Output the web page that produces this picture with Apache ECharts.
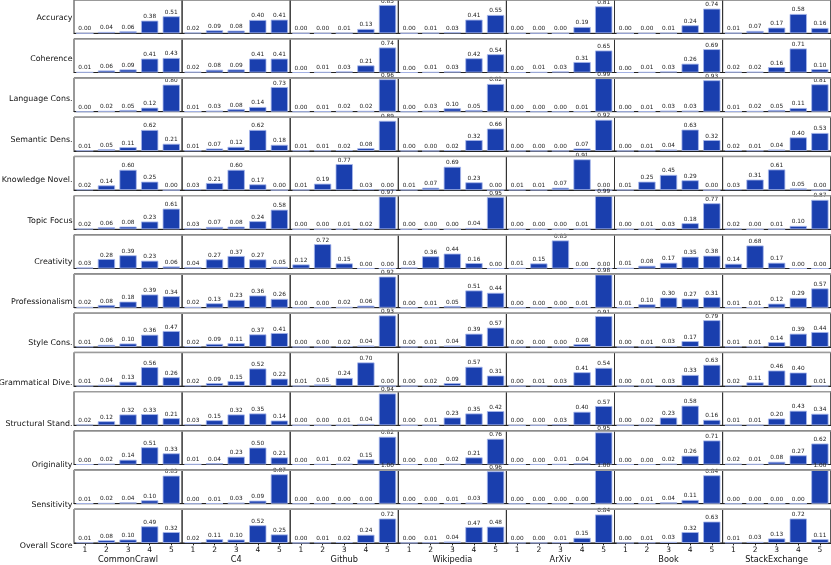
<!DOCTYPE html>
<html>
<head>
<meta charset="utf-8">
<script src="https://cdn.jsdelivr.net/npm/echarts@6/dist/echarts.min.js"></script>
<style>
html,body{margin:0;padding:0;background:#fff;}
#chart{width:831px;height:565px;}
</style>
</head>
<body>
<div id="chart"></div>
<script>
// ---- data ----
const sources = ['CommonCrawl','C4','Github','Wikipedia','ArXiv','Book','StackExchange'];
const metrics = ['Accuracy','Coherence','Language Cons.','Semantic Dens.','Knowledge Novel.','Topic Focus','Creativity','Professionalism','Style Cons.','Grammatical Dive.','Structural Stand.','Originality','Sensitivity','Overall Score'];
const scoreLabels = ['1','2','3','4','5'];

const commonCrawl = [
  [0.00,0.04,0.06,0.38,0.51],
  [0.01,0.06,0.09,0.41,0.43],
  [0.00,0.02,0.05,0.12,0.80],
  [0.01,0.05,0.11,0.62,0.21],
  [0.02,0.14,0.60,0.25,0.00],
  [0.02,0.06,0.08,0.23,0.61],
  [0.03,0.28,0.39,0.23,0.06],
  [0.02,0.08,0.18,0.39,0.34],
  [0.01,0.06,0.10,0.36,0.47],
  [0.01,0.04,0.13,0.56,0.26],
  [0.02,0.12,0.32,0.33,0.21],
  [0.00,0.02,0.14,0.51,0.33],
  [0.01,0.02,0.04,0.10,0.83],
  [0.01,0.08,0.10,0.49,0.32]
];
const c4 = [
  [0.02,0.09,0.08,0.40,0.41],
  [0.02,0.08,0.09,0.41,0.41],
  [0.01,0.03,0.08,0.14,0.73],
  [0.01,0.07,0.12,0.62,0.18],
  [0.03,0.21,0.60,0.17,0.00],
  [0.03,0.07,0.08,0.24,0.58],
  [0.04,0.27,0.37,0.27,0.05],
  [0.02,0.13,0.23,0.36,0.26],
  [0.02,0.09,0.11,0.37,0.41],
  [0.02,0.09,0.15,0.52,0.22],
  [0.03,0.15,0.32,0.35,0.14],
  [0.01,0.04,0.23,0.50,0.21],
  [0.00,0.01,0.03,0.09,0.87],
  [0.02,0.11,0.10,0.52,0.25]
];
const github = [
  [0.00,0.00,0.01,0.13,0.85],
  [0.00,0.01,0.03,0.21,0.74],
  [0.00,0.01,0.02,0.02,0.96],
  [0.01,0.01,0.02,0.08,0.89],
  [0.01,0.19,0.77,0.03,0.00],
  [0.00,0.00,0.01,0.02,0.97],
  [0.12,0.72,0.15,0.00,0.00],
  [0.00,0.00,0.02,0.06,0.92],
  [0.00,0.00,0.02,0.04,0.93],
  [0.01,0.05,0.24,0.70,0.00],
  [0.00,0.00,0.01,0.04,0.94],
  [0.00,0.01,0.02,0.15,0.82],
  [0.00,0.00,0.00,0.00,1.00],
  [0.00,0.01,0.02,0.24,0.72]
];
const wikipedia = [
  [0.00,0.01,0.03,0.41,0.55],
  [0.00,0.01,0.03,0.42,0.54],
  [0.00,0.03,0.10,0.05,0.82],
  [0.00,0.00,0.02,0.32,0.66],
  [0.01,0.07,0.69,0.23,0.00],
  [0.00,0.00,0.00,0.04,0.95],
  [0.03,0.36,0.44,0.16,0.00],
  [0.00,0.01,0.05,0.51,0.44],
  [0.00,0.01,0.04,0.39,0.57],
  [0.00,0.02,0.09,0.57,0.31],
  [0.00,0.01,0.23,0.35,0.42],
  [0.00,0.00,0.02,0.21,0.76],
  [0.00,0.00,0.01,0.03,0.96],
  [0.00,0.01,0.04,0.47,0.48]
];
const arxiv = [
  [0.00,0.00,0.00,0.19,0.81],
  [0.00,0.01,0.03,0.31,0.65],
  [0.00,0.00,0.00,0.01,0.99],
  [0.00,0.00,0.00,0.07,0.92],
  [0.01,0.01,0.07,0.91,0.00],
  [0.00,0.00,0.00,0.01,0.99],
  [0.01,0.15,0.83,0.00,0.00],
  [0.00,0.00,0.00,0.01,0.98],
  [0.00,0.00,0.00,0.08,0.91],
  [0.00,0.01,0.03,0.41,0.54],
  [0.00,0.00,0.03,0.40,0.57],
  [0.00,0.00,0.01,0.04,0.95],
  [0.00,0.00,0.00,0.00,1.00],
  [0.00,0.00,0.01,0.15,0.84]
];
const book = [
  [0.00,0.00,0.01,0.24,0.74],
  [0.00,0.01,0.03,0.26,0.69],
  [0.00,0.01,0.03,0.03,0.93],
  [0.00,0.01,0.04,0.63,0.32],
  [0.01,0.25,0.45,0.29,0.00],
  [0.00,0.01,0.03,0.18,0.77],
  [0.01,0.08,0.17,0.35,0.38],
  [0.01,0.10,0.30,0.27,0.31],
  [0.00,0.01,0.03,0.17,0.79],
  [0.00,0.01,0.03,0.33,0.63],
  [0.00,0.02,0.23,0.58,0.16],
  [0.00,0.00,0.02,0.26,0.71],
  [0.00,0.01,0.04,0.11,0.84],
  [0.00,0.01,0.03,0.32,0.63]
];
const stackExchange = [
  [0.01,0.07,0.17,0.58,0.16],
  [0.02,0.02,0.16,0.71,0.10],
  [0.01,0.02,0.05,0.11,0.81],
  [0.02,0.01,0.04,0.40,0.53],
  [0.03,0.31,0.61,0.05,0.00],
  [0.02,0.00,0.01,0.10,0.87],
  [0.14,0.68,0.17,0.00,0.00],
  [0.01,0.01,0.12,0.29,0.57],
  [0.01,0.01,0.14,0.39,0.44],
  [0.02,0.11,0.46,0.40,0.01],
  [0.01,0.01,0.20,0.43,0.34],
  [0.02,0.01,0.08,0.27,0.62],
  [0.00,0.00,0.00,0.00,1.00],
  [0.01,0.03,0.13,0.72,0.11]
];
const sourceData = [commonCrawl, c4, github, wikipedia, arxiv, book, stackExchange];

// ---- layout ----
const LEFT0 = 74, COLW = 108.1;
const TOP0 = -0.5, ROWP = 39.2, PANELH = 33.8;
const LABEL_Y0 = 18, LABEL_P = 40.6;
const FONT = 'DejaVu Sans';

const grids = [], xAxes = [], yAxes = [], series = [], graphics = [];
const nRows = metrics.length, nCols = sources.length;

for (let r = 0; r < nRows; r++) {
  for (let c = 0; c < nCols; c++) {
    const idx = grids.length;
    const isBottom = r === nRows - 1;
    grids.push({
      left: LEFT0 + c * COLW, top: TOP0 + r * ROWP,
      width: COLW, height: PANELH,
      show: true, borderColor: '#333', borderWidth: 1, backgroundColor: 'transparent'
    });
    xAxes.push({
      type: 'category', gridIndex: idx, data: scoreLabels,
      axisLine: { show: true, lineStyle: { color: '#222', width: 1 } },
      axisTick: { show: isBottom, alignWithLabel: true, length: 2.5, lineStyle: { color: '#222' } },
      axisLabel: { show: isBottom, fontSize: 7.5, color: '#111', margin: 3, fontFamily: FONT },
      name: isBottom ? sources[c] : '', nameLocation: 'middle', nameGap: 13,
      nameTextStyle: { fontSize: 8.2, color: '#111', fontFamily: FONT }
    });
    yAxes.push({
      type: 'value', gridIndex: idx, min: 0, max: 1, show: false,
      splitLine: { show: false }
    });
    series.push({
      type: 'bar', xAxisIndex: idx, yAxisIndex: idx,
      data: sourceData[c][r], barWidth: '80%',
      itemStyle: { color: '#1a3fae', borderColor: '#a9b9ec', borderWidth: 0.8 },
      label: {
        show: true, position: 'top', distance: 1,
        fontSize: 5.8, color: '#1a1a1a', fontFamily: FONT,
        formatter: p => p.value.toFixed(2)
      },
      clip: false, silent: true, animation: false
    });
  }
  // gray top line of row
  graphics.push({
    type: 'line', z: 100,
    shape: { x1: LEFT0, y1: TOP0 + r * ROWP + 0.3, x2: LEFT0 + nCols * COLW, y2: TOP0 + r * ROWP + 0.3 },
    style: { stroke: '#9c9c9c', lineWidth: 1.4 }
  });
  graphics.push({
    type: 'text', z: 100,
    style: {
      text: metrics[r], x: LEFT0 - 1.5, y: LABEL_Y0 + r * LABEL_P,
      align: 'right', verticalAlign: 'middle',
      font: '7.9px "DejaVu Sans"', fill: '#111'
    }
  });
}

const chart = echarts.init(document.getElementById('chart'), null, { renderer: 'canvas' });
chart.setOption({
  animation: false,
  grid: grids, xAxis: xAxes, yAxis: yAxes, series: series,
  graphic: graphics
});
</script>
</body>
</html>
